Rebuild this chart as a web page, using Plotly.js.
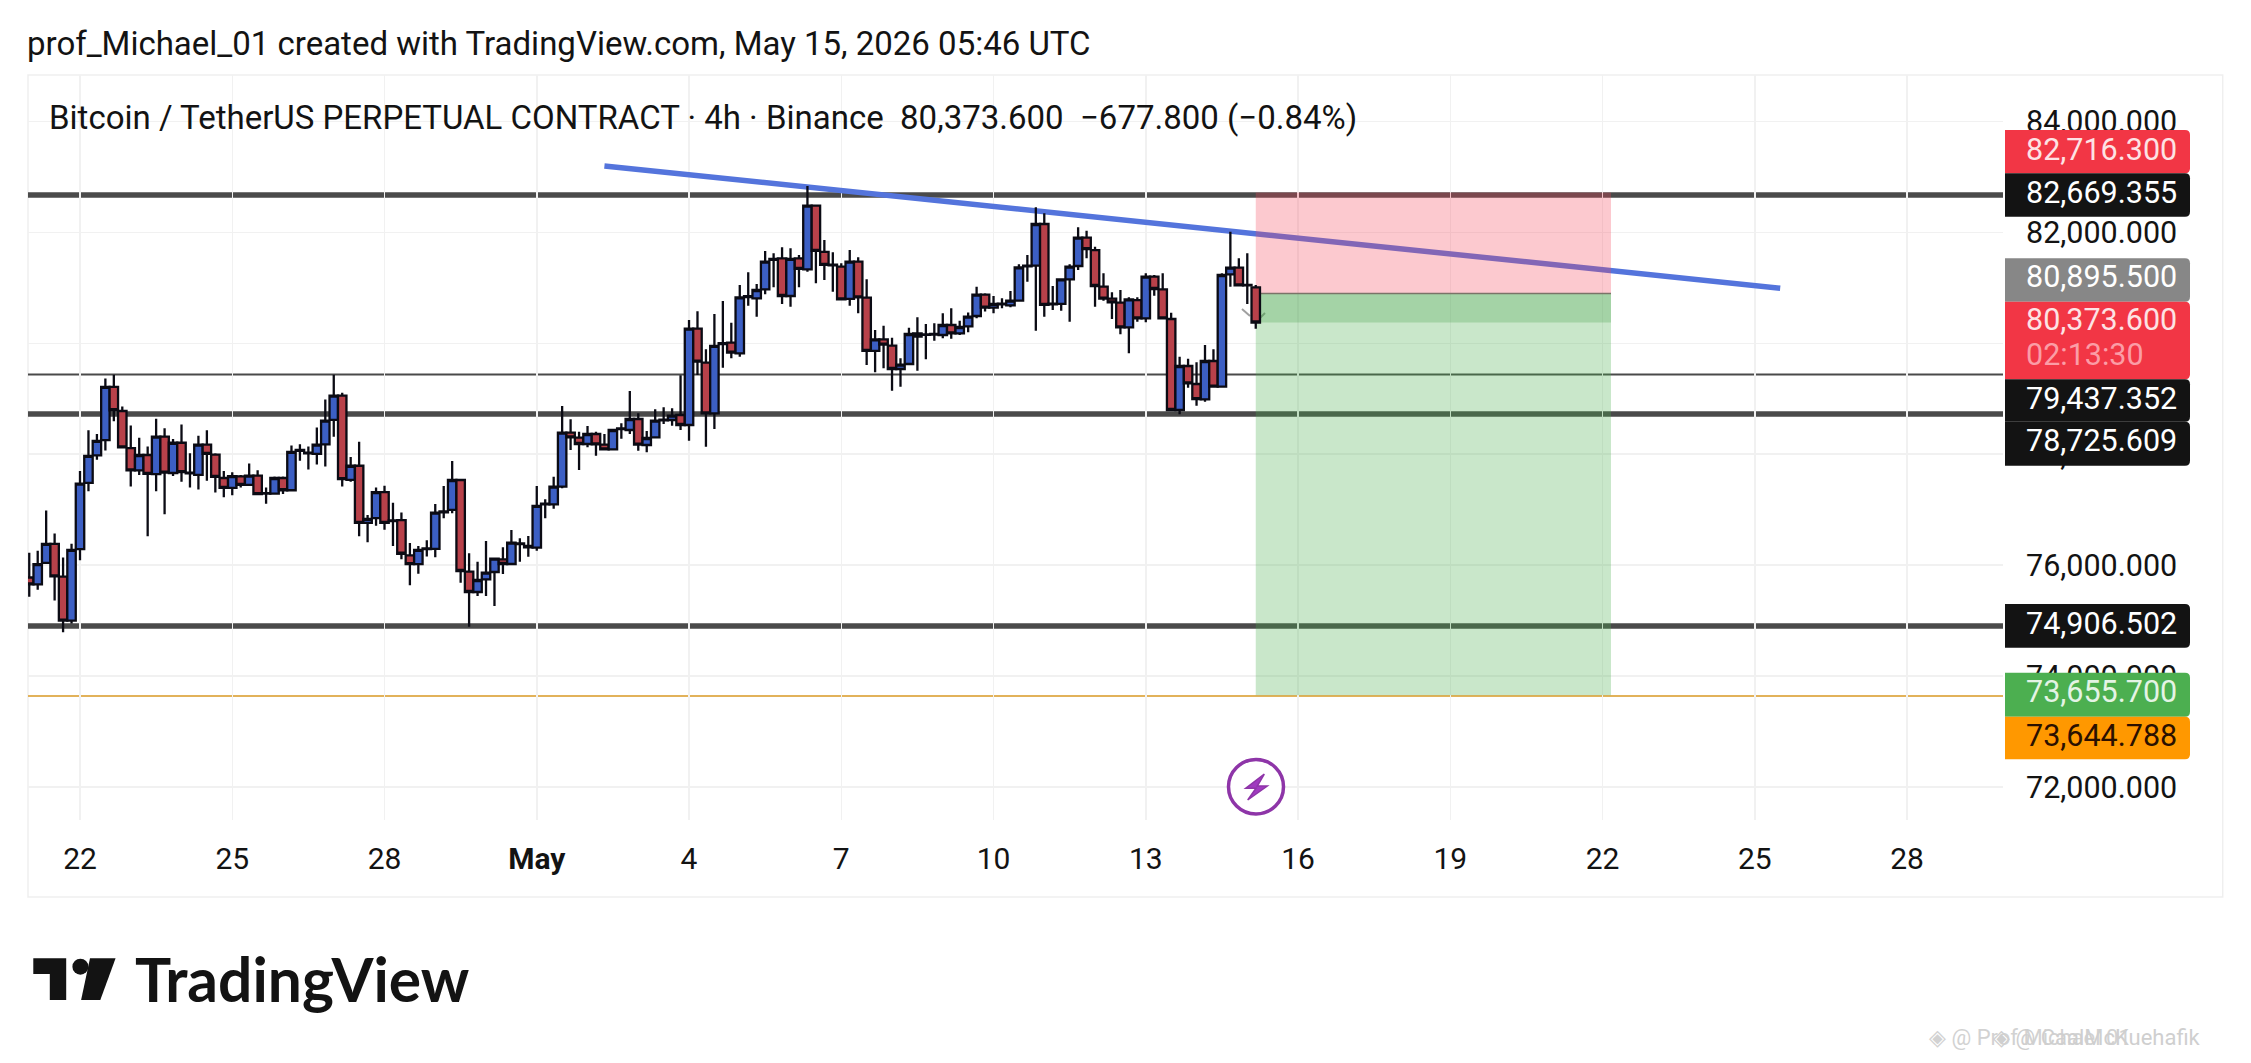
<!DOCTYPE html>
<html>
<head>
<meta charset="utf-8">
<script src="https://cdn.plot.ly/plotly-3.0.1.min.js"></script>
<style>html,body{margin:0;padding:0;background:#fff;overflow:hidden}</style>
</head>
<body>
<div id="chart" style="width:2251px;height:1063px"></div>
<script>
const barDays = ["2026-04-21","2026-04-22","2026-04-23","2026-04-24","2026-04-25","2026-04-26","2026-04-27","2026-04-28","2026-04-29","2026-04-30","2026-05-01","2026-05-02","2026-05-03","2026-05-04","2026-05-05","2026-05-06","2026-05-07","2026-05-08","2026-05-09","2026-05-10","2026-05-11","2026-05-12","2026-05-13","2026-05-14","2026-05-15"];
const sessionHours = ["00:00","04:00","08:00","12:00","16:00","20:00"];

const openPrices = [
75779,75655,76041,76386,75793,75000,76290,77483,77979,78255,
79213,78779,78110,77710,77986,77641,78317,77662,78207,77669,
77627,78172,77993,77572,77393,77600,77448,77614,77290,77290,
77572,77351,78060,78030,78007,78179,78620,79055,77538,77793,
76765,76848,77317,76810,76814,76179,76021,76290,76293,76955,
76996,77536,75884,75518,75746,75878,76107,76022,76380,76347,
76317,77098,77098,77416,78389,78299,78185,78365,78173,78089,
78455,78437,78635,78167,78305,78610,78617,78707,78527,80263,
79651,78738,79985,80011,79819,80832,80810,80972,81505,81531,
80852,81531,81333,82480,81645,81405,81381,80798,81471,80822,
79861,80071,79957,79536,79626,80179,80150,80155,80149,80329,
80179,80305,80491,80876,80642,80702,80684,80768,81387,81399,
82149,80700,80708,81152,81392,81903,81680,81020,80803,80731,
80287,80779,80449,81200,80972,80437,78797,79590,79266,78989,
79680,79218,81242,81362,81044,81008];
const highPrices = [
76227,76262,76986,76572,76138,76386,77696,78434,78365,79365,
79434,78862,78517,78296,78138,78641,78469,78276,78538,78020,
78331,78434,78020,77696,77676,77627,77834,77710,77400,77600,
77600,78158,78179,78138,78482,78986,79434,79110,77951,78227,
76903,77400,77434,77124,76952,76400,76345,76448,77104,77428,
77879,77536,76215,76064,76437,76125,76323,76635,76485,76527,
77428,77188,77596,78870,78629,78407,78509,78407,78365,78455,
78557,79140,78738,78419,78810,78846,78828,79422,80420,80576,
79891,80528,80762,80371,81050,81278,81068,81663,81621,81729,
81711,81591,82834,82492,81861,81639,81441,81681,81549,81152,
80239,80317,80101,79729,80281,80467,80347,80359,80540,80630,
80407,80552,81020,80900,80852,80810,80942,81423,81591,82450,
82342,81032,81170,81423,82089,82029,81740,81260,80917,80960,
80827,80827,81260,81230,81260,80551,79758,79722,79656,79968,
79890,81260,82011,81530,81621,81050];
const lowPrices = [
75434,75559,76041,75365,74793,74952,76090,77331,77903,78069,
78593,78124,77420,77627,76524,77331,76917,77607,77503,77400,
77365,77524,77310,77227,77262,77400,77448,77283,77110,77283,
77283,77351,77882,77724,77814,77779,78317,77420,77503,76524,
76414,76710,76641,76345,76110,75641,75848,76158,76143,76845,
76935,75686,74893,75446,75446,75266,75842,76022,76064,76155,
76263,76845,77020,77386,78077,77716,78125,77975,78077,78077,
78281,78365,78065,78035,78305,78545,78515,78437,78245,79428,
78137,78455,79560,79729,79759,80678,80479,80882,81008,80708,
80660,81008,81290,81080,81140,80930,80780,80678,80540,79608,
79476,79548,79146,79218,79626,79506,79711,80047,80089,80083,
80149,80197,80449,80570,80540,80630,80648,80750,81110,80227,
80479,80600,80588,80389,81320,81530,80659,80767,80437,80161,
79818,80389,80377,80857,80449,78785,78719,79200,78875,78947,
79206,79206,81020,81032,80707,80263];
const closePrices = [
75655,76021,76386,75800,75000,76276,77469,77972,78241,79213,
78793,78124,77710,77986,77648,78317,77669,78207,77676,77655,
78172,78007,77593,77393,77607,77448,77614,77283,77300,77572,
77351,78041,78078,78015,78172,78607,79055,77552,77793,76765,
76834,77317,76765,76795,76207,76021,76276,76302,76947,76972,
77536,75896,75518,75734,75866,76119,76022,76407,76395,76323,
77068,77110,77416,78389,78305,78185,78365,78179,78089,78437,
78467,78635,78173,78293,78605,78622,78695,78527,80263,79669,
78738,79951,80000,79831,80828,80848,80960,81471,81520,80852,
81519,81339,82480,81663,81411,81417,80792,81471,80828,79861,
80071,79975,79536,79614,80167,80119,80160,80167,80329,80179,
80293,80479,80876,80642,80708,80714,80768,81369,81399,82149,
80690,80714,81152,81381,81903,81698,81032,80803,80737,80287,
80791,80449,81200,80978,80449,78797,79590,79278,78995,79680,
79218,81230,81362,81044,81051.4,80373.6];

const xTickDates = ["2026-04-22","2026-04-25","2026-04-28","2026-05-01","2026-05-04","2026-05-07","2026-05-10","2026-05-13","2026-05-16","2026-05-19","2026-05-22","2026-05-25","2026-05-28"];
const xTickLabels = ["22","25","28","<b>May</b>","4","7","10","13","16","19","22","25","28"];
const yTickValues = [72000,74000,76000,78000,80000,82000,84000];

const thickLevels = [82669.355,78725.609,74906.502];
const thinLevel = 79437.352;
const fibLevel = 73644.788;
const stopPrice = 82716.3, entryPrice = 80895.5, targetPrice = 73655.7, lastPrice = 80373.6;
const boxStart = "2026-05-15 04:00", boxEnd = "2026-05-22 04:00";
const trendTimes = ["2026-05-02 08:00","2026-05-25 12:00"];
const trendPrices = [83195,80991];

const tagLabels = ["82,716.300","82,669.355","80,895.500","80,373.600","02:13:30","79,437.352","78,725.609","74,906.502","73,655.700","73,644.788"];
const headerText = "prof_Michael_01 created with TradingView.com, May 15, 2026 05:46 UTC";
const legendText = "Bitcoin / TetherUS PERPETUAL CONTRACT · 4h · Binance  80,373.600  −677.800 (−0.84%)";

const barTimes = barDays.flatMap(d => sessionHours.map(h => d + " " + h)).slice(0, openPrices.length);

// pane geometry in page pixels
const L = 28, R = 2003, T = 75, B = 820;
const fx = p => (p - L) / (R - L), fy = p => (B - p) / (B - T);
const FONT = "Roboto, sans-serif";

function pxPath(pts, close) {
  return "M" + pts.map(p => fx(p[0]).toFixed(5) + "," + fy(p[1]).toFixed(5)).join(" L") + (close ? " Z" : "");
}
function tagPath(x0, y0, x1, y1) {
  const r = 5, a = fx, b = fy;
  return `M${a(x0)},${b(y0)} L${a(x1 - r)},${b(y0)} Q${a(x1)},${b(y0)} ${a(x1)},${b(y0 + r)} L${a(x1)},${b(y1 - r)} Q${a(x1)},${b(y1)} ${a(x1 - r)},${b(y1)} L${a(x0)},${b(y1)} Z`;
}
const paperShape = (path, fill, line, width, layer) => ({type: "path", xref: "paper", yref: "paper", path, fillcolor: fill, line: {color: line, width: width}, layer: layer || "above"});

const shapes = [];
// outer frame
shapes.push({type: "rect", xref: "paper", yref: "paper", x0: 0, x1: fx(2222.7), y0: fy(897), y1: 1, line: {color: "#efefef", width: 1.5}, layer: "below"});
// horizontal levels
thickLevels.forEach(v => shapes.push({type: "line", xref: "paper", x0: 0, x1: 1, yref: "y", y0: v, y1: v, line: {color: "#4a4a4a", width: 5.5}, layer: "between"}));
shapes.push({type: "line", xref: "paper", x0: 0, x1: 1, yref: "y", y0: thinLevel, y1: thinLevel, line: {color: "#4a4a4a", width: 2}, layer: "between"});
shapes.push({type: "line", xref: "paper", x0: 0, x1: 1, yref: "y", y0: fibLevel, y1: fibLevel, line: {color: "#e2b25a", width: 2}, layer: "between"});
// trend line
shapes.push({type: "line", xref: "x", yref: "y", x0: trendTimes[0], x1: trendTimes[1], y0: trendPrices[0], y1: trendPrices[1], line: {color: "#5474dc", width: 5.5}, layer: "between"});
// position box
shapes.push({type: "rect", xref: "x", yref: "y", x0: boxStart, x1: boxEnd, y0: entryPrice, y1: stopPrice, fillcolor: "rgba(246,70,90,0.29)", line: {width: 0}, layer: "between"});
shapes.push({type: "rect", xref: "x", yref: "y", x0: boxStart, x1: boxEnd, y0: targetPrice, y1: entryPrice, fillcolor: "rgba(76,175,80,0.30)", line: {width: 0}, layer: "between"});
shapes.push({type: "rect", xref: "x", yref: "y", x0: boxStart, x1: boxEnd, y0: lastPrice, y1: entryPrice, fillcolor: "rgba(56,150,60,0.25)", line: {width: 0}, layer: "between"});
shapes.push({type: "line", xref: "x", yref: "y", x0: boxStart, x1: boxEnd, y0: entryPrice, y1: entryPrice, line: {color: "#7a7468", width: 1.5}, layer: "between"});
// small chevron under the last bar
shapes.push(paperShape(pxPath([[1242,309],[1250,316]]), "rgba(0,0,0,0)", "#a0a0a0", 2, "between"));
shapes.push(paperShape(pxPath([[1260,318],[1265,313]]), "rgba(0,0,0,0)", "#a0a0a0", 2, "between"));

// price tags
const tagRects = [[130,173.3,"#f23645"],[173.3,216.7,"#131313"],[258.3,301.7,"#878787"],[301.7,379.3,"#f23645"],[379.3,421.7,"#131313"],[421.7,465.7,"#131313"],[604,647.7,"#131313"],[672.7,716.7,"#4caf50"],[716.7,759.3,"#ff9800"]];
tagRects.forEach(t => shapes.push(paperShape(tagPath(2005, t[0], 2190, t[1]), t[2], "rgba(0,0,0,0)", 0)));

// lightning badge
shapes.push({type: "circle", xref: "paper", yref: "paper", x0: fx(1228.5), x1: fx(1283.5), y0: fy(814), y1: fy(759.5), fillcolor: "#ffffff", line: {color: "#8e35a8", width: 3.5}, layer: "above"});
shapes.push(paperShape(pxPath([[1264.3,774],[1245.7,788.3],[1256,788.3],[1247.7,800],[1267.3,786],[1257.3,786]], true), "#a03ac0", "#8e35a8", 1.5));

// TradingView logo
shapes.push(paperShape(pxPath([[33.3,958.3],[66.2,958.3],[66.2,1000],[49.8,1000],[49.8,974],[33.3,974]], true), "#131313", "#131313", 0));
shapes.push({type: "circle", xref: "paper", yref: "paper", x0: fx(72.4), x1: fx(88.4), y0: fy(974.7), y1: fy(958.7), fillcolor: "#131313", line: {width: 0}, layer: "above"});
shapes.push(paperShape(pxPath([[90,958.3],[115.6,958.3],[100.3,1000],[81.1,1000]], true), "#131313", "#131313", 0));

const tagCenters = [149,192.4,276.7,319.7,354.7,398.3,440.7,623,691.7,735];
const tagColors = ["#fde2e4","#ffffff","#ffffff","#fde2e4","#fb9da6","#ffffff","#ffffff","#ffffff","#e4f4e5","#2b1000"];
const textAt = (text, x, y, size, color, extra) => Object.assign({text, xref: "paper", yref: "paper", x: fx(x), y: fy(y), xanchor: "left", yanchor: "middle", showarrow: false, borderpad: 0, font: {family: FONT, size, color}}, extra || {});

const annotations = [
  textAt(headerText, 26, 43, 33, "#131313"),
  textAt(legendText, 48, 117.5, 33, "#131313"),
  textAt("TradingView", 134, 978, 60.5, "#131313", {font: {family: "Lato, sans-serif", size: 60.5, color: "#131313", weight: 700}}),
  textAt("◈ @ Prof Michael 01", 1928, 1037, 22, "#d2d2d2"),
  textAt("◈ @ CaalMcKuehafik", 1992, 1037, 22, "#cfcfcf")
];
tagLabels.forEach((t, i) => annotations.push(textAt(t, 2024.5, tagCenters[i], 30.5, tagColors[i])));

const candle = {
  type: "candlestick",
  x: barTimes, open: openPrices, high: highPrices, low: lowPrices, close: closePrices,
  width: 7800000,
  increasing: {fillcolor: "#3c5fc4", line: {color: "#0b0b14", width: 2.3}},
  decreasing: {fillcolor: "#b8414a", line: {color: "#0b0b14", width: 2.3}},
  whiskerwidth: 0,
  hoverinfo: "skip",
  showlegend: false
};

const layout = {
  width: 2251, height: 1063, autosize: false,
  margin: {l: L, r: 2251 - R, t: T, b: 1063 - B, pad: 0},
  paper_bgcolor: "#ffffff", plot_bgcolor: "#ffffff",
  showlegend: false, hovermode: false, dragmode: false,
  boxgap: 0, boxgroupgap: 0,
  xaxis: {
    type: "date",
    range: ["2026-04-20 23:24:36", "2026-05-29 21:22:00"],
    tickmode: "array", tickvals: xTickDates, ticktext: xTickLabels,
    showgrid: true, gridcolor: "#f1f1f1", gridwidth: 1.5,
    zeroline: false, showline: false, ticks: "",
    tickangle: 0, ticklabelstandoff: 18,
    tickfont: {family: FONT, size: 30, color: "#131313"},
    rangeslider: {visible: false}, fixedrange: true
  },
  yaxis: {
    side: "right",
    range: [71409, 84834],
    tickmode: "array", tickvals: yTickValues,
    tickformat: ",.3f",
    showgrid: true, gridcolor: "#f1f1f1", gridwidth: 1.5,
    zeroline: false, showline: false, ticks: "",
    ticklabelstandoff: 22,
    tickfont: {family: FONT, size: 30.5, color: "#131313"},
    fixedrange: true
  },
  shapes, annotations
};
Plotly.newPlot("chart", [candle], layout, {staticPlot: true, displayModeBar: false});
</script>
</body>
</html>
